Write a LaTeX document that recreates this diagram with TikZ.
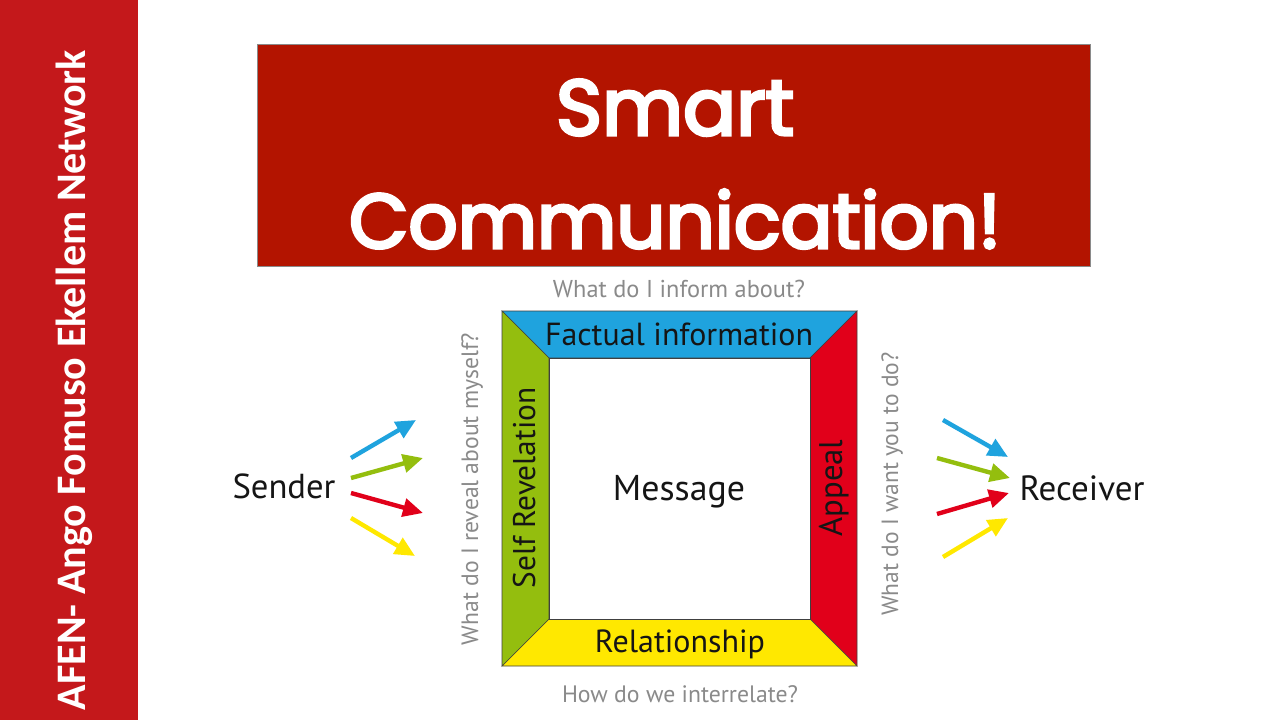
\documentclass[tikz,border=0pt]{standalone}
\usepackage{graphicx}
\usepackage{fontspec}
\setmainfont{PT Sans}
\newfontfamily\titlefont[FakeBold=4]{Poppins}
\newfontfamily\sidefont{Carlito}
\usetikzlibrary{arrows.meta}
\definecolor{sidered}{HTML}{C4181B}
\definecolor{titlered}{HTML}{B31400}
\definecolor{titleborder}{HTML}{8A8A8A}
\definecolor{qgray}{HTML}{8A8A8A}
\definecolor{cblue}{HTML}{1FA3DE}
\definecolor{cgreen}{HTML}{94BE0E}
\definecolor{cred}{HTML}{E1001A}
\definecolor{cyellow}{HTML}{FFE800}
\definecolor{ink}{HTML}{151515}
\newcommand\fitw[2]{\resizebox{#1}{!}{#2}}
\tikzset{
  lbl/.style={inner sep=0pt, outer sep=0pt, anchor=base, text=ink},
  qlbl/.style={inner sep=0pt, outer sep=0pt, anchor=base, text=qgray},
  face/.style={draw=black!75, line width=0.6pt},
  arr/.style={line width=4.4pt, -{Triangle[length=20pt,width=18pt]}},
}
\begin{document}
\begin{tikzpicture}[x=1pt,y=-1pt]
\useasboundingbox (0,0) rectangle (1280,720);
\fill[white] (0,0) rectangle (1280,720);
% side bar
\fill[sidered] (0,0) rectangle (138,720);
\node[inner sep=0pt, anchor=base, rotate=90, text=white] (side) at (85,380)
  {\fitw{660pt}{\sidefont\bfseries AFEN- Ango Fomuso Ekellem Network}};
% title box
\node[draw=titleborder, line width=0.8pt, fill=titlered, minimum width=833pt, minimum height=222pt, inner sep=0pt] (titlebox) at (673.5,155) {};
\node[inner sep=0pt, anchor=base, text=white] (title1) at (675,135) {\fitw{238pt}{\titlefont Smart}};
\node[inner sep=0pt, anchor=base, text=white] (title2) at (675,248) {\fitw{652pt}{\titlefont Communication!}};
% square
\coordinate (o1) at (502,311);
\coordinate (o2) at (857,311);
\coordinate (o3) at (857,666);
\coordinate (o4) at (502,666);
\coordinate (i1) at (549,358);
\coordinate (i2) at (810,358);
\coordinate (i3) at (810,619);
\coordinate (i4) at (549,619);
\filldraw[face, fill=cblue] (o1) -- (o2) -- (i2) -- (i1) -- cycle;
\filldraw[face, fill=cred] (o2) -- (o3) -- (i3) -- (i2) -- cycle;
\filldraw[face, fill=cyellow] (o3) -- (o4) -- (i4) -- (i3) -- cycle;
\filldraw[face, fill=cgreen] (o4) -- (o1) -- (i1) -- (i4) -- cycle;
\filldraw[face, fill=white] (i1) -- (i2) -- (i3) -- (i4) -- cycle;
% labels in square
\node[lbl] (fact) at (679,345) {\fitw{268pt}{Factual information}};
\node[lbl] (msg) at (679,500) {\fitw{132pt}{Message}};
\node[lbl] (rel) at (680,652) {\fitw{170pt}{Relationship}};
\node[lbl, rotate=90] (self) at (535,488) {\fitw{201pt}{Self Revelation}};
\node[lbl, rotate=90] (appeal) at (842,488) {\fitw{97pt}{Appeal}};
% questions
\node[qlbl] (q1) at (679,297) {\fitw{252pt}{What do I inform about?}};
\node[qlbl] (q2) at (680,702) {\fitw{236pt}{How do we interrelate?}};
\node[qlbl, rotate=90] (q3) at (478,489) {\fitw{312pt}{What do I reveal about myself?}};
\node[qlbl, rotate=90] (q4) at (898,484) {\fitw{263pt}{What do I want you to do?}};
% sender / receiver
\node[lbl] (sender) at (284,498) {\fitw{103pt}{Sender}};
\node[lbl] (receiver) at (1082,500) {\fitw{125pt}{Receiver}};
% arrows left
\coordinate (ls1) at (351,458); \coordinate (le1) at (416,420);
\coordinate (ls2) at (351,478); \coordinate (le2) at (423,458);
\coordinate (ls3) at (351,493); \coordinate (le3) at (423,513);
\coordinate (ls4) at (351,518); \coordinate (le4) at (415,556);
\draw[arr, cblue] (ls1) -- (le1);
\draw[arr, cgreen] (ls2) -- (le2);
\draw[arr, cred] (ls3) -- (le3);
\draw[arr, cyellow] (ls4) -- (le4);
% arrows right
\coordinate (rs1) at (943,420); \coordinate (re1) at (1008,457);
\coordinate (rs2) at (937,458); \coordinate (re2) at (1010,478);
\coordinate (rs3) at (937,514); \coordinate (re3) at (1009,493);
\coordinate (rs4) at (943,557); \coordinate (re4) at (1008,518);
\draw[arr, cblue] (rs1) -- (re1);
\draw[arr, cgreen] (rs2) -- (re2);
\draw[arr, cred] (rs3) -- (re3);
\draw[arr, cyellow] (rs4) -- (re4);
\end{tikzpicture}
\end{document}
